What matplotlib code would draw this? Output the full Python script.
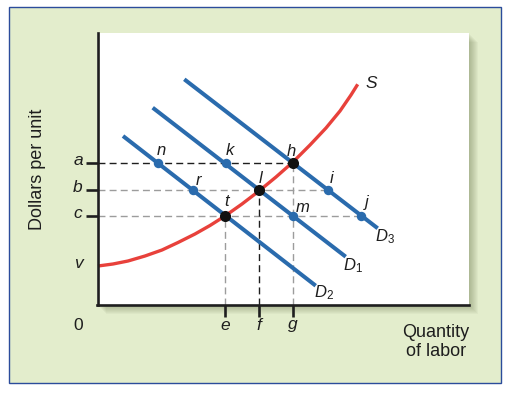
import matplotlib
matplotlib.use("Agg")
import matplotlib.pyplot as plt
from matplotlib.patches import Rectangle

plt.rcParams['font.family'] = ['Liberation Sans', 'DejaVu Sans']
plt.rcParams['mathtext.fontset'] = 'custom'
plt.rcParams['mathtext.it'] = 'Liberation Sans:italic'
plt.rcParams['mathtext.rm'] = 'Liberation Sans'

# wage levels (y) and quantities (x)
wage_a, wage_b, wage_c = 142.3, 115.3, 89.0
wage_v = 39.0
qty_e, qty_f, qty_g = 127.0, 161.3, 194.7

# demand curves (straight lines, end points)
d2_x = [25.0, 217.7]
d2_y = [169.0, 19.3]
d1_x = [54.7, 247.7]
d1_y = [197.3, 48.3]
d3_x = [86.3, 279.7]
d3_y = [225.7, 76.7]

# supply curve, read points
s_x = [0, 15, 30, 47, 64, 80, 97, 112, 127, 144, 161, 178, 195, 212, 228, 242, 253, 259.7]
s_y = [39, 41, 44, 49, 55, 62.5, 71, 79.5, 89, 101, 114, 128, 143, 160, 177, 194, 210, 220.7]

# labelled points
blue_names = ['n', 'k', 'r', 'i', 'm', 'j']
blue_x = [60.3, 128.0, 94.7, 230.3, qty_g, 262.7]
blue_y = [wage_a, wage_a, wage_b, wage_b, wage_c, wage_c]
black_names = ['h', 'l', 't']
black_x = [qty_g, qty_f, qty_e]
black_y = [wage_a, wage_b, wage_c]

BLUE = '#2a6bad'
RED = '#e8413b'
GRAY = '#9c9c9c'
DARK = '#1e1e1e'

W, H = 508, 395
fig = plt.figure(figsize=(W / 100, H / 100), dpi=100)
fig.patch.set_facecolor('white')

def fx(px):
    return px / W

def fy(py):
    return 1 - py / H

# green panel with blue frame
fig.add_artist(Rectangle((fx(9), fy(383)), fx(501) - fx(9), fy(7) - fy(383),
                         transform=fig.transFigure, facecolor='#e3edcc',
                         edgecolor='#2b4c9b', lw=1.0, zorder=-3))
# soft shadow of the white box
for k in range(1, 10):
    fig.add_artist(Rectangle((fx(97 + k), fy(305 + k)), 372 / W, 272 / H,
                             transform=fig.transFigure, facecolor='#4a5a30',
                             edgecolor='none', alpha=0.045, zorder=-2))

ax = fig.add_axes([97 / W, 1 - 305 / H, 372 / W, 272 / H])
ax.set_facecolor('white')
ax.set_xlim(-1, 371)
ax.set_ylim(0, 272)
for side in ['top', 'right']:
    ax.spines[side].set_visible(False)
ax.spines['left'].set_position(('data', 0))
ax.spines['left'].set_linewidth(1.9)
ax.spines['bottom'].set_linewidth(1.9)
ax.spines['left'].set_color(DARK)
ax.spines['bottom'].set_color(DARK)

ax.set_xticks([qty_e, qty_f, qty_g], labels=['', '', ''])
ax.set_yticks([wage_a, wage_b, wage_c], labels=['', '', ''])
ax.tick_params(axis='both', length=8.5, width=1.9, color=DARK, direction='out')

# dashed guides
dash = (0, (5, 3))
ax.plot([0, qty_g], [wage_a, wage_a], color=DARK, lw=1.0, ls=dash, zorder=1)
ax.plot([0, blue_x[3]], [wage_b, wage_b], color=GRAY, lw=1.0, ls=dash, zorder=1)
ax.plot([0, blue_x[5]], [wage_c, wage_c], color=GRAY, lw=1.0, ls=dash, zorder=1)
ax.plot([qty_e, qty_e], [0, wage_c], color=GRAY, lw=1.0, ls=dash, zorder=1)
ax.plot([qty_f, qty_f], [0, wage_b], color=DARK, lw=1.0, ls=dash, zorder=1)
ax.plot([qty_g, qty_g], [0, wage_a], color=GRAY, lw=1.0, ls=dash, zorder=1)

# curves
ax.plot(s_x, s_y, color=RED, lw=2.4, solid_capstyle='butt',
        solid_joinstyle='round', zorder=2)
for xs, ys in [(d2_x, d2_y), (d1_x, d1_y), (d3_x, d3_y)]:
    ax.plot(xs, ys, color=BLUE, lw=2.9, solid_capstyle='butt', zorder=3)

ax.plot(blue_x, blue_y, 'o', color=BLUE, ms=6.8, mew=0, zorder=4)
ax.plot(black_x, black_y, 'o', color='#111111', ms=8, mew=0, zorder=5)

# point labels (offsets in pixels)
offsets = {'n': (3, 12), 'k': (4, 12), 'r': (6, 9), 'i': (3, 11),
           'm': (10, 9), 'j': (6, 14), 'h': (-1, 11), 'l': (1, 11), 't': (2, 14)}
for name, x, y in zip(blue_names + black_names, blue_x + black_x, blue_y + black_y):
    ax.annotate(name, xy=(x, y), xytext=offsets[name], textcoords='offset pixels',
                ha='center', va='center', fontsize=12, style='italic', color=DARK,
                zorder=6)

# curve names
ax.text(273, 221, 'S', fontsize=12.5, style='italic', ha='center', va='center', color=DARK)
ax.text(287, 68, r'$\mathit{D}_{\mathit{3}}$', fontsize=12, ha='center', va='center', color=DARK)
ax.text(254.7, 39.3, r'$\mathit{D}_{\mathit{1}}$', fontsize=12, ha='center', va='center', color=DARK)
ax.text(226, 12, r'$\mathit{D}_{\mathit{2}}$', fontsize=12, ha='center', va='center', color=DARK)

# axis letters
for name, y in zip(['a', 'b', 'c', 'v'], [wage_a, wage_b, wage_c, wage_v]):
    ax.text(-20, y + 2, name, fontsize=12.5, style='italic', ha='center', va='center',
            color=DARK, clip_on=False)
ax.text(-20, -20, '0', fontsize=12.5, ha='center', va='center', color=DARK, clip_on=False)
for name, x in zip(['e', 'f', 'g'], [qty_e, qty_f, qty_g]):
    ax.text(x, -20, name, fontsize=12.5, style='italic', ha='center', va='center',
            color=DARK, clip_on=False)

fig.text(fx(38), fy(169), 'Dollars per unit', rotation=90, fontsize=13,
         ha='center', va='center', color=DARK)
fig.text(fx(436), fy(342), 'Quantity\nof labor', fontsize=13, ha='center',
         va='center', multialignment='center', linespacing=1.1, color=DARK)

fig.savefig('out.png', dpi=100)
